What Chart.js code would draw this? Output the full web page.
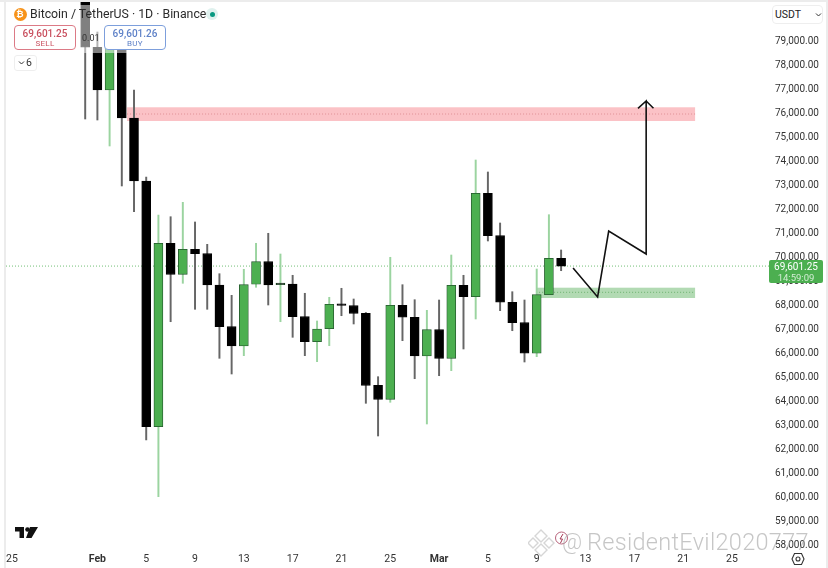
<!DOCTYPE html>
<html>
<head>
<meta charset="utf-8">
<script src="https://cdn.jsdelivr.net/npm/chart.js@4"></script>
<style>
    html, body { margin: 0; padding: 0; background: #fff; }
    #wrap { position: relative; width: 828px; height: 568px; overflow: hidden; font-family: Roboto, sans-serif; }
    #wrap div, #wrap svg { position: absolute; }
    canvas { position: absolute; left: 0; top: 0; }
    .edge { background: #ececec; }
    .btn { box-sizing: border-box; background: #fff; border-radius: 4px; border: 1px solid; text-align: center; width: 62px; height: 25px; top: 25px; font-size: 10px; line-height: 11px; padding-top: 1.5px; font-weight: 500; }
    .btn small { display: block; font-size: 8px; font-weight: 400; letter-spacing: .3px; line-height: 9px; }
    .mark { top: 527px; line-height: 30px; color: rgba(160,160,160,.6); white-space: nowrap; font-weight: 300; }
</style>
</head>
<body>
<div id="wrap">
    <canvas id="chart" width="828" height="568"></canvas>

    <div class="edge" style="left:0;top:0;width:828px;height:2px"></div>
    <div class="edge" style="left:4px;top:0;width:2px;height:568px"></div>
    <div class="edge" style="left:826px;top:0;width:2px;height:568px"></div>

    <div style="left:12px;top:5px;width:156px;height:47.5px;background:rgba(255,255,255,.5)"></div>
    <div style="left:13.5px;top:7.5px;width:13px;height:13px;border-radius:50%;background:#f7931a;color:#fff;font-size:9px;line-height:13px;text-align:center;font-weight:700">₿</div>
    <div style="left:30px;top:6px;font-size:12.3px;line-height:16px;color:#2a2a2a;white-space:nowrap">Bitcoin / TetherUS · 1D · Binance</div>
    <div style="left:206px;top:8px;width:12px;height:12px;border-radius:50%;background:#dff1ee"></div>
    <div style="left:209.5px;top:11.5px;width:5px;height:5px;border-radius:50%;background:#089981"></div>

    <div class="btn" style="left:14px;border-color:#dc7a86;color:#c9505f">69,601.25<small>SELL</small></div>
    <div style="left:82px;top:33px;font-size:9px;line-height:10px;color:#333">0.01</div>
    <div class="btn" style="left:104px;border-color:#7d9fdc;color:#5f82c8">69,601.26<small>BUY</small></div>
    <div style="left:14px;top:55px;width:23px;height:16px;box-sizing:border-box;background:#fff;border:1px solid #eee;border-radius:3px;font-size:10.5px;line-height:14px;color:#333;text-align:right;padding-right:4px">6</div>
    <svg style="left:18px;top:60px" width="7" height="6"><path d="M1 1.5 L3.5 4 L6 1.5" fill="none" stroke="#333" stroke-width="1"/></svg>

    <div style="left:772px;top:5px;width:51px;height:19px;box-sizing:border-box;background:#fff;border:1px solid #eee;border-radius:4px;font-size:10.5px;line-height:17px;color:#222;padding-left:2px">USDT</div>
    <svg style="left:815px;top:12px" width="7" height="6"><path d="M1 1.5 L3.5 4 L6 1.5" fill="none" stroke="#333" stroke-width="1"/></svg>

    <div style="left:769px;top:260px;width:54px;height:22.5px;background:#4caf50;border-radius:2px;color:#fff;font-size:10px;line-height:11px;text-align:center;padding-top:.5px">69,601.25<br><span style="color:#d3edd4;font-size:9.5px">14:59:09</span></div>

    <svg style="left:15px;top:526px" width="24" height="13"><path d="M0 1 H9 V12 H4.5 V5.5 H0 Z M15 1 H23 L16.5 12 H11 Z" fill="#111"/><circle cx="12.5" cy="3.5" r="2.3" fill="#111"/></svg>

    <svg style="left:528px;top:528px" width="50" height="30">
        <path d="M13 2 L19 8 L13 14 L7 8 Z M5 10 L10 15 L5 20 L0 15 Z M21 10 L26 15 L21 20 L16 15 Z M13 16 L19 22 L13 28 L7 22 Z" fill="none" stroke="#d6d6d6" stroke-width="1.4"/>
        <circle cx="33.5" cy="10" r="6" fill="none" stroke="#b7627a" stroke-width="1"/>
        <path d="M35 6 L32 11 H34.5 L32.5 15" fill="none" stroke="#a33a55" stroke-width="1"/>
    </svg>
    <div class="mark" style="left:562px;font-size:22px">@</div>
    <div class="mark" style="left:587px;font-size:23.5px;letter-spacing:.3px">ResidentEvil2020777</div>

    <svg style="left:791px;top:552px" width="14" height="14"><path d="M3.5 1.5 H10.5 L13 7 L10.5 12.5 H3.5 L1 7 Z" fill="none" stroke="#333" stroke-width="1.1"/><circle cx="7" cy="7" r="2" fill="none" stroke="#333" stroke-width="1.1"/></svg>
</div>

<script>
// days counted from 25 Jan
const candleDays = [6,7,8,9,10,11,12,13,14,15,16,17,18,19,20,21,22,23,24,25,26,27,28,29,30,31,32,33,34,35,36,37,38,39,40,41,42,43,44,45];
const opens  = [80604,78717,76937,79021,75771,73146,62908,70550,69258,70300,70117,68813,67075,66271,68842,69783,68830,68854,67492,66450,66992,67979,67950,67633,64633,64050,67967,67467,65854,66950,65758,68800,68325,72633,70867,68092,67242,65967,68408,69925];
const highs  = [80604,79354,79021,79021,76937,73313,71729,71658,72258,71438,70508,69283,68383,69467,70550,70967,70104,69217,68467,67313,68300,68675,68229,67667,64992,69967,68825,68200,67758,68187,70062,69217,74021,73521,71396,68533,68187,69479,71742,70271];
const lows   = [75729,75687,74604,72938,71867,62354,59992,67283,68883,67800,67800,65758,65104,65867,68717,67979,67283,66633,65867,65617,66283,67533,67188,63883,62521,63925,66492,64908,63021,65033,65242,66146,67396,70646,67742,66908,65604,65825,68408,69408];
const closes = [78717,76937,79021,75771,73146,62908,70550,69258,70300,70117,68813,67075,66271,68825,69783,68813,68845,67492,66450,66979,68008,67965,67633,64633,64050,67967,67467,65854,66950,65758,68800,68325,72633,70867,68092,67242,65967,68408,69925,69601.25];

const tickDays = [0,7,11,15,19,23,27,31,35,39,43,47,51,55,59];
const tickTexts = ['25','Feb','5','9','13','17','21','25','Mar','5','9','13','17','21','25'];
const priceTicks = [79000,78000,77000,76000,75000,74000,73000,72000,71000,70000,69000,68000,67000,66000,65000,64000,63000,62000,61000,60000,59000,58000];

const lastPrice = 69601.25;
const redZone = { from: 9.43, to: 55.98, top: 76217, bottom: 75646, mid: 75937 };
const greenZone = { from: 42.95, to: 55.98, top: 68700, bottom: 68270, mid: 68508 };

const arrowDays   = [45.98,47.99,48.9,51.97,51.97,51.3,51.97,52.57];
const arrowPrices = [69521,68312,71062,70104,76479,76175,76479,76175];

const GREEN = '#4caf50';
const GREEN_DARK = '#22552b';
const GREEN_WICK = '#9bd4a0';
const BLACK_WICK = '#666666';

function isUp(i) {
    return closes[i] >= opens[i];
}

const zonesPlugin = {
    id: 'zones',
    beforeDatasetsDraw(chart) {
        const ctx = chart.ctx;
        const x = chart.scales.x;
        const y = chart.scales.y;
        const zones = [[redZone, '#fbc2c6', '#d9848c'], [greenZone, '#b2dab3', '#5aa860']];
        zones.forEach(([z, fill, dots]) => {
            ctx.save();
            ctx.fillStyle = fill;
            ctx.fillRect(x.getPixelForValue(z.from), y.getPixelForValue(z.top),
                x.getPixelForValue(z.to) - x.getPixelForValue(z.from),
                y.getPixelForValue(z.bottom) - y.getPixelForValue(z.top));
            ctx.strokeStyle = dots;
            ctx.lineWidth = 0.8;
            ctx.setLineDash([1, 2]);
            ctx.beginPath();
            ctx.moveTo(x.getPixelForValue(z.from), y.getPixelForValue(z.mid));
            ctx.lineTo(x.getPixelForValue(z.to), y.getPixelForValue(z.mid));
            ctx.stroke();
            ctx.restore();
        });
    }
};

new Chart(document.getElementById('chart').getContext('2d'), {
    data: {
        datasets: [
            {
                type: 'scatter',
                data: arrowDays.map((d, i) => ({ x: d, y: arrowPrices[i] })),
                showLine: true,
                borderColor: '#111',
                borderWidth: 1.6,
                pointRadius: 0,
                order: 0
            },
            {
                type: 'scatter',
                data: [{ x: -0.49, y: lastPrice }, { x: 62.2, y: lastPrice }],
                showLine: true,
                borderColor: GREEN,
                borderWidth: 0.8,
                borderDash: [1, 2],
                pointRadius: 0,
                order: 3
            },
            {
                type: 'bar',
                data: candleDays.map((d, i) => ({ x: d, y: [Math.min(opens[i], closes[i]), Math.max(opens[i], closes[i])] })),
                grouped: false,
                barThickness: 9,
                minBarLength: 1.5,
                backgroundColor: candleDays.map((d, i) => (isUp(i) && closes[i] - opens[i] > 60) ? GREEN : '#000'),
                borderColor: candleDays.map((d, i) => isUp(i) ? GREEN_DARK : '#000'),
                borderWidth: 0.8,
                borderSkipped: false,
                order: 1
            },
            {
                type: 'bar',
                data: candleDays.map((d, i) => ({ x: d, y: [lows[i], highs[i]] })),
                grouped: false,
                barThickness: 1.3,
                backgroundColor: candleDays.map((d, i) => isUp(i) ? GREEN_WICK : BLACK_WICK),
                order: 2
            }
        ]
    },
    options: {
        responsive: false,
        animation: false,
        layout: { padding: { left: 6, top: 2, right: 0, bottom: 0 } },
        plugins: { legend: { display: false }, tooltip: { enabled: false } },
        scales: {
            x: {
                type: 'linear',
                offset: false,
                min: -0.49,
                max: 62.2,
                grid: { display: false, drawTicks: false, tickLength: 0 },
                border: { display: false },
                afterBuildTicks(scale) {
                    scale.ticks = tickDays.map(d => ({ value: d }));
                },
                afterFit(scale) {
                    scale.height = 20;
                    scale.paddingLeft = 0;
                    scale.paddingRight = 0;
                },
                ticks: {
                    autoSkip: false,
                    maxRotation: 0,
                    padding: 5,
                    color: '#333',
                    font: ctx => ({ family: 'Roboto', size: 10.5, weight: (ctx.index === 1 || ctx.index === 8) ? '700' : '400' }),
                    callback: value => tickTexts[tickDays.indexOf(value)]
                }
            },
            y: {
                position: 'right',
                min: 57854,
                max: 80604,
                grid: { display: false, drawTicks: false, tickLength: 0 },
                border: { display: false },
                afterBuildTicks(scale) {
                    scale.ticks = priceTicks.map(v => ({ value: v }));
                },
                afterFit(scale) {
                    scale.width = 57;
                    scale.paddingTop = 0;
                    scale.paddingBottom = 0;
                },
                ticks: {
                    autoSkip: false,
                    padding: 4,
                    labelOffset: 1,
                    color: '#333',
                    font: { family: 'Roboto', size: 10 },
                    callback: value => value.toLocaleString('en-US', { minimumFractionDigits: 2 })
                }
            }
        }
    },
    plugins: [zonesPlugin]
});
</script>
</body>
</html>
